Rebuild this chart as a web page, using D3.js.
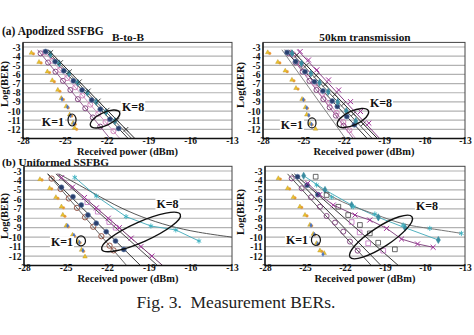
<!DOCTYPE html>
<html><head><meta charset="utf-8">
<script src="https://cdn.jsdelivr.net/npm/d3@7"></script>
<style>body{margin:0;background:#fff;}svg{display:block;}</style>
</head><body>
<svg id="c" width="474" height="335"></svg>
<script>
// ---------- tick values ----------
const xTicks = [-28, -25, -22, -19, -16, -13];
const yTicks = [-3, -4, -5, -6, -7, -8, -9, -10, -11, -12];

// ---------- (a) Apodized, B-to-B ----------
const a1K1Tri = [[-27.4,-3.65],[-26.85,-4.65],[-26.25,-5.7],[-25.9,-6.65],[-25.5,-7.7],[-25.25,-8.6],[-24.9,-9.5],[-24.65,-10.4],[-24.4,-11.3],[-24.3,-11.85]];
const a1K1Dot = [[-27.25,-3.75],[-26.7,-4.75],[-26.1,-5.8],[-25.75,-6.8],[-25.35,-7.85],[-25.1,-8.75],[-24.75,-9.65],[-24.5,-10.55],[-24.25,-11.45],[-24.15,-12.0]];
const a1K1Dia = [[-25.2,-8.7],[-24.8,-9.55],[-24.6,-10.5],[-24.35,-11.4]];
const a1Circ = [[-26.74,-3.7],[-26.2,-4.7],[-25.67,-5.7],[-25.13,-6.7],[-24.6,-7.7],[-24.06,-8.7],[-23.53,-9.7],[-22.99,-10.7],[-22.46,-11.7]];
const a1CircLine = [[-26.95,-3.3],[-21.76,-13]];
const a1Pink = [[-26.43,-3.6],[-25.91,-4.5],[-25.34,-5.5],[-24.83,-6.4],[-24.25,-7.4],[-23.74,-8.3],[-23.17,-9.3],[-22.6,-10.3],[-22.08,-11.2],[-21.51,-12.2]];
const a1PinkLine = [[-26.6,-3.3],[-21.05,-13]];
const a1Navy = [[-26.38,-3.5],[-25.69,-4.6],[-25.07,-5.6],[-24.38,-6.7],[-23.76,-7.7],[-23.07,-8.8],[-22.45,-9.8],[-21.76,-10.9],[-21.14,-11.9]];
const a1NavyLine = [[-26.5,-3.3],[-20.45,-13]];
const a1Teal = [[-26.03,-3.8],[-25.4,-4.8],[-24.7,-5.9],[-24.07,-6.9],[-23.37,-8.0],[-22.74,-9.0],[-22.04,-10.1],[-21.4,-11.1]];
const a1TealLine = [[-26.35,-3.3],[-20.2,-13]];
const a1Gray = [[-26.01,-3.6],[-25.3,-4.7],[-24.66,-5.7],[-23.95,-6.8],[-23.31,-7.8],[-22.6,-8.9],[-21.96,-9.9],[-21.25,-11.0],[-20.61,-12.0]];
const a1GrayLine = [[-26.2,-3.3],[-19.97,-13]];

// ---------- (a) Apodized, 50km ----------
const a2K1Tri = [[-27.65,-3.6],[-26.9,-4.65],[-26.35,-5.6],[-25.85,-6.6],[-25.55,-7.5],[-25.1,-8.7],[-24.85,-9.6],[-24.75,-10.4],[-24.5,-11.4],[-24.1,-11.95]];
const a2K1Dot = [[-27.5,-3.7],[-26.75,-4.75],[-26.2,-5.7],[-25.7,-6.7],[-25.4,-7.6],[-24.95,-8.8],[-24.7,-9.7],[-24.6,-10.5],[-24.35,-11.5]];
const a2K1Dia = [[-25.0,-8.75],[-24.75,-9.65],[-24.6,-10.45],[-24.4,-11.45]];
const a2Circ = [[-26.09,-3.7],[-25.58,-4.7],[-25.06,-5.7],[-24.55,-6.7],[-24.03,-7.7],[-23.52,-8.7],[-23.05,-9.6],[-22.59,-10.5],[-22.02,-11.6]];
const a2CircLine = [[-26.3,-3.3],[-21.3,-13]];
const a2Pink = [[-25.75,-3.8],[-25.2,-4.9],[-24.69,-5.9],[-24.14,-7.0],[-23.59,-8.1],[-23.09,-9.1],[-22.53,-10.2],[-22.03,-11.2],[-21.58,-12.1]];
const a2PinkLine = [[-26.0,-3.3],[-21.13,-13]];
const a2Navy = [[-26.21,-3.6],[-25.58,-4.6],[-24.88,-5.7],[-24.18,-6.8],[-23.55,-7.8],[-22.86,-8.9],[-22.48,-9.5],[-21.78,-10.6],[-21.21,-11.5]];
const a2NavyLine = [[-26.4,-3.3],[-20.26,-13]];
const a2Teal = [[-25.84,-3.7],[-25.14,-4.8],[-24.44,-5.9],[-23.8,-6.9],[-23.16,-7.9],[-22.45,-9.0],[-21.81,-10.0],[-21.11,-11.1]];
const a2TealLine = [[-26.1,-3.3],[-19.89,-13]];
const a2Gray = [[-25.5,-3.9],[-24.78,-5.0],[-24.05,-6.1],[-23.39,-7.1],[-22.67,-8.2],[-22.01,-9.2],[-21.28,-10.3],[-20.56,-11.4]];
const a2GrayLine = [[-25.9,-3.3],[-19.5,-13]];
const a2Mag = [[-25.24,-3.5],[-24.62,-4.42],[-24.0,-5.5],[-23.13,-6.6],[-22.38,-7.7],[-21.5,-8.97],[-20.76,-10.05],[-20.14,-11.32]];
const a2MagLine = [[-25.45,-3.3],[-19.34,-13]];
const a2ExtraLine = [[-26.6,-3.3],[-21.88,-13]];

// ---------- (b) Uniformed, B-to-B ----------
const b1K1Tri = [[-26.85,-3.88],[-26.15,-4.83],[-25.7,-5.78],[-25.3,-6.77],[-25.2,-7.65],[-24.95,-8.78],[-24.5,-9.77],[-24.1,-10.5],[-23.85,-11.36],[-23.6,-12.07]];
const b1K1Dot = [[-26.7,-3.95],[-26.0,-4.9],[-25.55,-5.9],[-25.15,-6.9],[-25.05,-7.8],[-24.8,-8.9],[-24.35,-9.9],[-23.95,-10.6],[-23.7,-11.5]];
const b1K1Dia = [[-24.85,-8.8],[-24.4,-9.8],[-24.0,-10.55],[-23.75,-11.4]];
const b1Circ = [[-26.01,-3.8],[-25.36,-4.9],[-24.77,-5.9],[-24.18,-6.9],[-23.6,-7.9],[-23.01,-8.9],[-22.42,-9.9],[-21.83,-10.9],[-21.54,-11.4]];
const b1CircLine = [[-26.3,-3.3],[-20.6,-13]];
const b1Navy = [[-25.3,-4.73],[-24.47,-5.72],[-23.87,-6.6],[-23.39,-7.66],[-22.79,-8.53],[-22.07,-9.42],[-21.4,-10.4],[-20.8,-11.3]];
const b1NavyLine = [[-26.29,-3.3],[-19.6,-13]];
const b1PinkSq = [[-23.43,-6.3],[-22.68,-7.3],[-21.85,-8.4],[-21.39,-9.0]];
const b1PinkSqLine = [[-25.7,-3.3],[-18.37,-13]];
const b1Mag = [[-25.29,-3.7],[-24.5,-4.7],[-23.64,-5.8],[-22.78,-6.9],[-21.92,-8.0],[-21.13,-9.0],[-20.27,-10.1],[-19.57,-11.0],[-18.78,-12.0]];
const b1MagLine = [[-25.6,-3.3],[-18.0,-13]];
const b1TealStar = [[-24.34,-3.67],[-22.79,-5.65],[-20.64,-7.83],[-18.85,-8.82],[-17.05,-9.24],[-15.38,-10.41]];
const b1Curve = [[-25.5,-3.3],[-23.5,-4.9],[-21.5,-6.6],[-19.5,-7.9],[-17.5,-8.85],[-15.5,-9.5],[-13,-10.0]];

// ---------- (b) Uniformed, 50km ----------
const b2K1Tri = [[-27.0,-3.78],[-26.3,-4.83],[-25.88,-5.78],[-25.38,-6.78],[-25.0,-7.66],[-24.63,-8.71],[-24.38,-9.67],[-24.13,-10.65],[-23.88,-11.43],[-23.56,-11.7]];
const b2K1Dot = [[-26.85,-3.85],[-26.15,-4.9],[-25.75,-5.85],[-25.25,-6.85],[-24.85,-7.75],[-24.5,-8.8],[-24.25,-9.75],[-24.0,-10.75],[-23.75,-11.5]];
const b2K1Dia = [[-24.55,-8.75],[-24.3,-9.7],[-24.05,-10.7],[-23.65,-11.8]];
const b2Circ = [[-26.0,-3.78],[-25.25,-4.83],[-24.55,-5.78],[-23.88,-6.78],[-23.38,-7.76],[-22.75,-8.46],[-22.13,-9.42],[-21.63,-10.47],[-21.05,-11.43]];
const b2CircLine = [[-26.31,-3.3],[-20.03,-13]];
const b2Navy = [[-25.56,-3.6],[-24.84,-4.5],[-24.03,-5.5]];
const b2NavyLine = [[-25.8,-3.3],[-18.0,-13]];
const b2Sq = [[-24.2,-3.6],[-23.38,-5.54],[-22.5,-6.78],[-21.76,-7.66],[-20.88,-8.71],[-20.14,-9.6],[-19.51,-10.59],[-18.26,-11.29]];
const b2PinkSq = [[-21.5,-8.4],[-20.9,-9.5],[-20.26,-10.65],[-19.13,-11.43]];
const b2Mag = [[-24.8,-4.3],[-23.9,-5.5],[-22.88,-6.6],[-21.25,-7.66],[-20.14,-8.19],[-18.88,-9.07],[-17.76,-10.2],[-16.56,-10.72],[-15.39,-11.07]];
const b2TealStar = [[-24.13,-4.48],[-23.0,-5.78],[-21.38,-6.78],[-19.76,-7.55],[-17.64,-8.71],[-15.64,-9.07],[-13.27,-9.6]];
const b2TealDia = [[-25.1,-3.5],[-23.5,-5.0],[-21.5,-6.6],[-19.5,-7.9],[-17.5,-9.0],[-15.0,-10.3]];
const b2DarkLine = [[-26.0,-3.3],[-19.3,-13]];

// ---------- annotations (data units) ----------
const annK8 = [[-20.10,-9.56],[-19.24,-9.12],[-17.65,-6.49],[-15.85,-6.70]];
const annK8Ell = [[-22.11,-10.87],[-21.32,-10.76],[-19.56,-9.45],[-19.3,-9.98]];
const annK1 = [[-25.85,-11.2],[-25.85,-11.52],[-25.26,-10.51],[-25.6,-10.3]];
const annK1Loop = [[-24.48,-10.98],[-24.36,-11.3],[-23.89,-10.4],[-24.18,-10.3]];

// ---------- rendering ----------
const FONT = '"Liberation Serif","Times New Roman",serif';
const svg = d3.select('#c');
const TIMES = d3.symbolTimes || d3.symbolCross;
const ASTER = d3.symbolAsterisk || d3.symbolStar;

const ST = {
  circ:   {sym:d3.symbolCircle, size:20, open:true,  color:'#7a3a78', sw:0.9},
  pink:   {sym:d3.symbolCircle, size:20, open:true,  color:'#cc78b4', sw:0.9},
  brown:  {sym:d3.symbolCircle, size:22, open:true,  color:'#8e4a3a', sw:0.9},
  navy:   {sym:d3.symbolCircle, size:20, open:false, color:'#2a3f6e', sw:0.6, stroke:'#6a88b0'},
  teal:   {sym:d3.symbolDiamond, size:15, open:false, color:'#3a8ca0', sw:0.5},
  grayX:  {sym:TIMES, size:16, open:true, color:'#333', sw:0.9},
  magX:   {sym:TIMES, size:18, open:true, color:'#a0309a', sw:1},
  star:   {sym:ASTER, size:18, open:true, color:'#38b0c0', sw:0.9},
  sq:     {sym:d3.symbolSquare, size:22, open:true, color:'#444', sw:0.8},
  pinkSq: {sym:d3.symbolSquare, size:22, open:true, color:'#c070c0', sw:0.8},
  k1tri:  {sym:d3.symbolTriangle, size:9, open:false, color:'#eec22a', sw:0.4, stroke:'#b09030'},
  k1dot:  {sym:d3.symbolCircle, size:6, open:false, color:'#f09a3a', sw:0.3},
  k1dia:  {sym:d3.symbolDiamond, size:6, open:false, color:'#4a74c4', sw:0.3}
};

const k1Sets = [
  [a1K1Tri, a1K1Dot, a1K1Dia],
  [a2K1Tri, a2K1Dot, a2K1Dia],
  [b1K1Tri, b1K1Dot, b1K1Dia],
  [b2K1Tri, b2K1Dot, b2K1Dia]
];

const k8Sets = [
  [
    {pts:a1Circ, line:a1CircLine, st:'circ', lc:'#8a5088'},
    {pts:a1Pink, line:a1PinkLine, st:'pink', lc:'#c890c0'},
    {pts:a1Navy, line:a1NavyLine, st:'navy', lc:'#222'},
    {pts:a1Teal, line:a1TealLine, st:'teal', lc:'#444'},
    {pts:a1Gray, line:a1GrayLine, st:'grayX', lc:'#111'}
  ],
  [
    {pts:null, line:a2ExtraLine, st:null, lc:'#777'},
    {pts:a2Circ, line:a2CircLine, st:'circ', lc:'#8a5088'},
    {pts:a2Pink, line:a2PinkLine, st:'pink', lc:'#c890c0'},
    {pts:a2Navy, line:a2NavyLine, st:'navy', lc:'#222'},
    {pts:a2Teal, line:a2TealLine, st:'teal', lc:'#444'},
    {pts:a2Gray, line:a2GrayLine, st:'grayX', lc:'#111'},
    {pts:a2Mag, line:a2MagLine, st:'magX', lc:'#7a2a78'}
  ],
  [
    {pts:null, line:b1Curve, st:null, lc:'#444', curve:true},
    {pts:b1TealStar, line:b1TealStar, st:'star', lc:'#40a8b8'},
    {pts:b1Circ, line:b1CircLine, st:'brown', lc:'#555'},
    {pts:b1Navy, line:b1NavyLine, st:'navy', lc:'#222'},
    {pts:b1PinkSq, line:b1PinkSqLine, st:'pinkSq', lc:'#333'},
    {pts:b1Mag, line:b1MagLine, st:'magX', lc:'#5a2050'}
  ],
  [
    {pts:null, line:b2DarkLine, st:null, lc:'#222'},
    {pts:b2TealDia, line:b2TealDia, st:'teal', lc:'#40a8b8'},
    {pts:b2TealStar, line:b2TealStar, st:'star', lc:'#666', curve:true},
    {pts:b2Circ, line:b2CircLine, st:'circ', lc:'#444'},
    {pts:b2Navy, line:b2NavyLine, st:'navy', lc:'#222'},
    {pts:b2Sq, line:null, st:'sq', lc:null},
    {pts:b2PinkSq, line:null, st:'pinkSq', lc:null},
    {pts:b2Mag, line:b2Mag, st:'magX', lc:'#7a3a78'}
  ]
];

const panels = [
  {left:23,  right:232, top:42.4,  bottom:138.5, ell:[16,6.5,-25], loop:[4,6], ylab:[8,84]},
  {left:263, right:465, top:42.4,  bottom:138.5, ell:[17,7,-25],   loop:[4,5], ylab:[243.5,85]},
  {left:24,  right:232, top:166.3, bottom:265.5, ell:[43,10,-24],  loop:[4.5,5], ylab:[8,216]},
  {left:265, right:465, top:166.3, bottom:265.5, ell:[37,10,-33],  loop:[4.5,5.5], ylab:[243.5,212]}
];

function drawMarkers(g, pts, st, x, y) {
  const s = ST[st];
  g.append('g').selectAll('path').data(pts).join('path')
    .attr('transform', d => `translate(${x(d[0])},${y(d[1])})`)
    .attr('d', d3.symbol().type(s.sym).size(s.size))
    .attr('fill', s.open ? 'none' : s.color)
    .attr('stroke', s.stroke || s.color)
    .attr('stroke-width', s.sw);
}

panels.forEach((p, i) => {
  const x = d3.scaleLinear().domain([-28, -13]).range([p.left, p.right]);
  const y = d3.scaleLinear().domain([-13, -2.5]).range([p.bottom, p.top]);
  const g = svg.append('g');

  // grid
  g.append('g').selectAll('line').data(yTicks).join('line')
    .attr('x1', p.left).attr('x2', p.right)
    .attr('y1', d => y(d)).attr('y2', d => y(d))
    .attr('stroke', '#b2b2b2').attr('stroke-width', 1.2);

  // clip
  const cid = 'clip' + i;
  g.append('clipPath').attr('id', cid).append('rect')
    .attr('x', p.left).attr('y', p.top).attr('width', p.right - p.left).attr('height', p.bottom - p.top);
  const pg = g.append('g').attr('clip-path', `url(#${cid})`);

  // K=8 series
  k8Sets[i].forEach(s => {
    if (s.line) {
      const gen = d3.line().x(d => x(d[0])).y(d => y(d[1]));
      if (s.curve) gen.curve(d3.curveBasis);
      pg.append('path').attr('d', gen(s.line)).attr('fill', 'none')
        .attr('stroke', s.lc).attr('stroke-width', 0.9);
    }
  });
  k8Sets[i].forEach(s => { if (s.pts && s.st) drawMarkers(pg, s.pts, s.st, x, y); });

  // K=1 series
  const [tri, dot, dia] = k1Sets[i];
  drawMarkers(pg, dot, 'k1dot', x, y);
  drawMarkers(pg, tri, 'k1tri', x, y);
  drawMarkers(pg, dia, 'k1dia', x, y);

  // border
  g.append('rect').attr('x', p.left).attr('y', p.top)
    .attr('width', p.right - p.left).attr('height', p.bottom - p.top)
    .attr('fill', 'none').attr('stroke', '#444').attr('stroke-width', 1);
  g.append('path').attr('d', `M${p.left},${p.top}V${p.bottom}H${p.right}`)
    .attr('fill', 'none').attr('stroke', '#111').attr('stroke-width', 1.3);

  // axes
  const ya = g.append('g').attr('transform', `translate(${p.left},0)`)
    .call(d3.axisLeft(y).tickValues(yTicks).tickSize(0).tickPadding(2.5).tickFormat(d => String(d)));
  ya.select('.domain').remove();
  ya.selectAll('text').attr('font-family', FONT).attr('font-weight', 'bold').attr('font-size', 9.5).attr('fill', '#111');

  const xa = g.append('g').attr('transform', `translate(0,${p.bottom})`)
    .call(d3.axisBottom(x).tickValues(xTicks).tickSize(0).tickPadding(0).tickFormat(d => String(d)));
  xa.select('.domain').remove();
  xa.selectAll('text').attr('font-family', FONT).attr('font-weight', 'bold').attr('font-size', 9.5)
    .attr('fill', '#111').attr('y', 0).attr('dy', '0.6em');

  // axis titles
  g.append('text').attr('x', (p.left + p.right) / 2).attr('y', p.bottom + 16.8)
    .attr('text-anchor', 'middle').attr('font-family', FONT).attr('font-weight', 'bold')
    .attr('font-size', 10.4).attr('fill', '#111').text('Received power (dBm)');
  g.append('text').attr('transform', `translate(${p.ylab[0]},${p.ylab[1]}) rotate(-90)`)
    .attr('text-anchor', 'middle').attr('font-family', FONT).attr('font-weight', 'bold')
    .attr('font-size', 10.5).attr('fill', '#111').text('Log(BER)');

  // annotations
  const e = annK8Ell[i];
  g.append('ellipse').attr('cx', 0).attr('cy', 0).attr('rx', p.ell[0]).attr('ry', p.ell[1])
    .attr('transform', `translate(${x(e[0])},${y(e[1])}) rotate(${p.ell[2]})`)
    .attr('fill', 'none').attr('stroke', '#111').attr('stroke-width', 1.4);
  const l = annK1Loop[i];
  g.append('ellipse').attr('cx', x(l[0])).attr('cy', y(l[1])).attr('rx', p.loop[0]).attr('ry', p.loop[1])
    .attr('fill', 'none').attr('stroke', '#111').attr('stroke-width', 1.2);

  [[annK8[i], 'K=8'], [annK1[i], 'K=1']].forEach(([pos, label]) => {
    const tg = g.append('g');
    const t = tg.append('text').attr('x', x(pos[0])).attr('y', y(pos[1]))
      .attr('dy', '0.35em').attr('text-anchor', 'middle').attr('font-family', FONT)
      .attr('font-weight', 'bold').attr('font-size', 12).attr('fill', '#111').text(label);
    const bb = t.node().getBBox();
    tg.insert('rect', 'text').attr('x', bb.x - 1).attr('y', bb.y + 1).attr('width', bb.width + 2)
      .attr('height', bb.height - 2).attr('fill', '#fff');
  });
});

// titles
const titles = [
  {t:'(a) Apodized SSFBG', x:2, y:34.5, a:'start', s:11.5},
  {t:'B-to-B', x:128, y:40.5, a:'middle', s:11.3},
  {t:'50km transmission', x:365, y:40.5, a:'middle', s:11.3},
  {t:'(b) Uniformed SSFBG', x:2, y:165.5, a:'start', s:11.2}
];
titles.forEach(d => svg.append('text').attr('x', d.x).attr('y', d.y).attr('text-anchor', d.a)
  .attr('font-family', FONT).attr('font-weight', 'bold').attr('font-size', d.s).attr('fill', '#111').text(d.t));

svg.append('text').attr('x', 236).attr('y', 308).attr('text-anchor', 'middle')
  .style('white-space', 'pre').attr('xml:space', 'preserve')
  .attr('font-family', FONT).attr('font-size', 17.5).attr('fill', '#222').text('Fig. 3.  Measurement BERs.');
</script>
</body></html>
